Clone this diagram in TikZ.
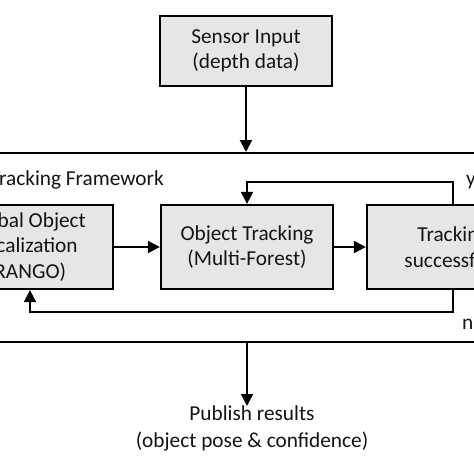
\documentclass[tikz,border=0pt]{standalone}
\usepackage{fontspec}
\setmainfont{Carlito}
\usetikzlibrary{arrows.meta}
\definecolor{boxgray}{HTML}{E6E6E6}
\definecolor{txt}{HTML}{141414}
\tikzset{
  procbox/.style={draw=black, line width=2.2pt, fill=boxgray, align=center, inner sep=0pt,
    minimum width=172pt, minimum height=84pt, text=txt, font=\fontsize{21.3}{25.5}\selectfont},
  lbl/.style={text=txt, font=\fontsize{21.3}{25.5}\selectfont, inner sep=0pt, align=center},
  arr/.style={line width=1.9pt, -{Triangle[length=12pt,width=12pt]}},
  ln/.style={line width=1.9pt}
}
\begin{document}
\begin{tikzpicture}[x=1pt,y=-1pt]
\useasboundingbox (0,0) rectangle (474,474);
\clip (0,0) rectangle (474,474);
\fill[white] (0,0) rectangle (474,474);
% sensor
\node[procbox, minimum height=70pt] (sensor) at (246,51) {Sensor Input\\(depth data)};
% framework frame
\node[draw=black, line width=2pt, minimum width=500pt, minimum height=189pt, inner sep=0pt] (frame) at (240,247.5) {};
\node[lbl, anchor=east] (fwlabel) at (164,180) {Tracking Framework};
% process boxes
\node[procbox] (global) at (27,247) {Global Object\\Localization\\(RANGO)};
\node[procbox] (track) at (247,247) {Object Tracking\\(Multi-Forest)};
\node[procbox] (succ) at (453,247) {Tracking\\successful?};
% arrows
\draw[arr] (sensor.south) -- (sensor.south |- frame.north);
\draw[arr] (global.east) -- (track.west);
\draw[arr] (track.east) -- (succ.west);
\draw[arr] (succ.north) -- ++(0,-22) -| (track.north);
\draw[arr] (succ.south) -- ++(0,22) -| ([xshift=3pt]global.south);
\node[lbl, anchor=west] (yes) at (466,182) {yes};
\node[lbl, anchor=west] (no) at (462,324) {no};
% output
\node[lbl, anchor=north, font=\fontsize{21.3}{27}\selectfont] (pub) at (252,406) {Publish results\\(object pose \& confidence)};
\coordinate (outtop) at (247,342);
\draw[arr] (outtop) -- (outtop |- pub.north);
\end{tikzpicture}
\end{document}
